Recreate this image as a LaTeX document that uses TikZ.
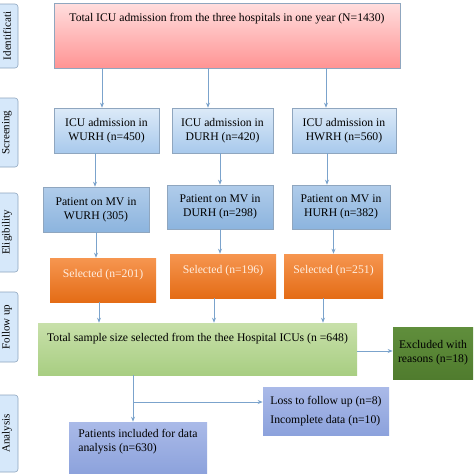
\documentclass[tikz,border=0pt]{standalone}
\usepackage{fontspec}
\setmainfont{Liberation Serif}
\usetikzlibrary{arrows.meta,shadings}
\definecolor{lnk}{HTML}{7BA3CC}
\definecolor{bord}{HTML}{8FA6BF}
\tikzset{
  base/.style={draw=bord, line width=0.6pt, inner sep=0pt, align=center, font=\fontsize{11.7}{14}\selectfont},
  topbox/.style={base, top color=red!13, bottom color=red!42},
  scrbox/.style={base, top color={rgb,255:red,220;green,234;blue,248}, bottom color={rgb,255:red,168;green,201;blue,236}, minimum height=45pt},
  elgbox/.style={base, top color={rgb,255:red,176;green,204;blue,234}, bottom color={rgb,255:red,140;green,180;blue,222}},
  selbox/.style={base, draw=none, top color={rgb,255:red,246;green,150;blue,80}, bottom color={rgb,255:red,228;green,108;blue,22}, text={rgb,255:red,255;green,238;blue,225}, minimum height=44pt},
  grnbox/.style={base, draw=none, top color={rgb,255:red,200;green,224;blue,170}, bottom color={rgb,255:red,168;green,206;blue,130}},
  excbox/.style={base, draw=none, top color={rgb,255:red,96;green,142;blue,60}, bottom color={rgb,255:red,80;green,124;blue,46}},
  anabox/.style={base, draw=none, top color={rgb,255:red,170;green,186;blue,232}, bottom color={rgb,255:red,140;green,162;blue,220}},
  stage/.style={draw=bord, line width=0.6pt, rounded corners=3pt, fill={rgb,255:red,214;green,232;blue,250}, rotate=90, minimum height=22pt, inner sep=0pt, font=\fontsize{11}{13}\selectfont},
  arr/.style={draw=lnk, line width=0.7pt, -{Stealth[length=5pt,width=4pt]}},
}
\begin{document}
\begin{tikzpicture}[x=1pt,y=-1pt]
\useasboundingbox (0,0) rectangle (474,474);
\fill[white] (0,0) rectangle (474,474);
% stage labels
\node[stage, minimum width=64pt] (lid) at (7,36) {Identificati};
\node[stage, minimum width=69pt] (lsc) at (7,132.5) {Screening};
\node[stage, minimum width=79pt] (lel) at (7,232.5) {Eligibility};
\node[stage, minimum width=70pt] (lfu) at (7,327) {Follow up};
\node[stage, minimum width=77pt] (lan) at (7,433.5) {Analysis};
% top box
\node[topbox, minimum width=346pt, text height=18pt, text depth=47pt] (top) at (227,35.5) {Total ICU admission from the three hospitals in one year (N=1430)};
% screening
\node[scrbox, minimum width=105pt] (s1) at (106.5,130.5) {ICU admission in\\WURH (n=450)};
\node[scrbox, minimum width=101pt] (s2) at (222.5,130.5) {ICU admission in\\DURH (n=420)};
\node[scrbox, minimum width=104pt] (s3) at (344,130.5) {ICU admission in\\HWRH (n=560)};
% eligibility
\node[elgbox, minimum width=106pt, minimum height=45pt] (e1) at (96,209.5) {Patient on MV in\\WURH (305)};
\node[elgbox, minimum width=106pt, minimum height=44pt] (e2) at (220,207) {Patient on MV in\\DURH (n=298)};
\node[elgbox, minimum width=98pt, minimum height=44pt] (e3) at (341,207) {Patient on MV in\\HURH (n=382)};
% selected
\node[selbox, minimum width=106pt, text height=19pt, text depth=25pt] (d1) at (103,280) {Selected (n=201)};
\node[selbox, minimum width=106pt, text height=19pt, text depth=25pt] (d2) at (223,276) {Selected (n=196)};
\node[selbox, minimum width=99pt, text height=19pt, text depth=25pt] (d3) at (333.5,276) {Selected (n=251)};
% follow up
\node[grnbox, minimum width=319pt, text height=18pt, text depth=34pt] (grn) at (197.5,349) {Total sample size selected from the thee Hospital ICUs (n =648)};
\node[excbox, minimum width=80pt, minimum height=52pt] (exc) at (433,353) {Excluded with\\reasons (n=18)};
% analysis
\node[anabox, minimum width=126pt, minimum height=48pt] (loss) at (326,411) {\begin{tabular}{@{}l@{}}Loss to follow up (n=8)\\[5pt]Incomplete data (n=10)\end{tabular}};
\node[anabox, minimum width=138pt, minimum height=52pt] (pat) at (138,448) {\raisebox{3pt}[0pt][0pt]{\begin{tabular}{@{}l@{}}Patients included for data\\analysis (n=630)\end{tabular}}};
% connectors
\draw[arr] ([xshift=-4.5pt]s1.north |- top.south) -- ([xshift=-4.5pt]s1.north);
\draw[arr] ([xshift=-14.5pt]s2.north |- top.south) -- ([xshift=-14.5pt]s2.north);
\draw[arr] ([xshift=-18pt]s3.north |- top.south) -- ([xshift=-18pt]s3.north);
\draw[arr] ([xshift=-1pt]e1.north |- s1.south) -- ([xshift=-1pt]e1.north);
\draw[arr] (e2.north |- s2.south) -- (e2.north);
\draw[arr] ([xshift=-14pt]e3.north |- s3.south) -- ([xshift=-14pt]e3.north);
\draw[arr] ([xshift=-7pt]d1.north |- e1.south) -- ([xshift=-7pt]d1.north);
\draw[arr] ([xshift=-3pt]d2.north |- e2.south) -- ([xshift=-3pt]d2.north);
\draw[arr] (d3.north |- e3.south) -- (d3.north);
\draw[arr] ([xshift=-4pt]d1.south) -- ([xshift=-4pt]d1.south |- grn.north);
\draw[arr] ([xshift=-9pt]d2.south) -- ([xshift=-9pt]d2.south |- grn.north);
\draw[arr] ([xshift=-10.5pt]d3.south) -- ([xshift=-10.5pt]d3.south |- grn.north);
\draw[arr] ([yshift=-2pt]grn.east) -- ([yshift=-2pt]grn.east -| exc.west);
\draw[arr] ([xshift=-5pt]pat.north |- grn.south) -- ([xshift=-5pt]pat.north);
\draw[arr] ([xshift=-5pt,yshift=9pt]pat.north |- loss.west) -- ([yshift=9pt]loss.west);
\end{tikzpicture}
\end{document}
